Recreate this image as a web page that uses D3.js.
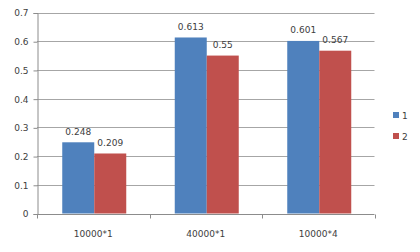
<!DOCTYPE html>
<html>
<head>
<meta charset="utf-8">
<script src="https://cdn.jsdelivr.net/npm/d3@7"></script>
<style>
  body { margin: 0; background: #fff; }
  text { font-family: "DejaVu Sans", sans-serif; font-size: 9px; fill: #404040; }
</style>
</head>
<body>
<div id="chart"></div>
<script>
// chart data
var categories = ["10000*1", "40000*1", "10000*4"];
var seriesNames = ["1", "2"];
var series1 = [0.248, 0.613, 0.601];
var series2 = [0.209, 0.55, 0.567];
var yTicks = [0, 0.1, 0.2, 0.3, 0.4, 0.5, 0.6, 0.7];

var colors = ["#4f81bd", "#c0504d"];

var width = 420, height = 252;
var margin = { top: 12.5, right: 45.5, bottom: 38.5, left: 37 };

var svg = d3.select("#chart").append("svg")
    .attr("width", width)
    .attr("height", height);

var x = d3.scaleBand()
    .domain(categories)
    .range([margin.left, width - margin.right]);

var x1 = d3.scaleBand()
    .domain(seriesNames)
    .range([0, 64]);

var y = d3.scaleLinear()
    .domain([0, 0.7])
    .range([height - margin.bottom, margin.top]);

// gridlines
svg.append("g")
  .selectAll("line")
  .data(yTicks.slice(1))
  .enter().append("line")
    .attr("x1", margin.left)
    .attr("x2", width - margin.right)
    .attr("y1", function(d) { return Math.round(y(d)) + 0.5; })
    .attr("y2", function(d) { return Math.round(y(d)) + 0.5; })
    .attr("stroke", "#a6a6a6");

// y axis
var yAxis = svg.append("g")
    .attr("transform", "translate(" + (margin.left + 0.5) + ",0.5)")
    .call(d3.axisLeft(y).tickValues(yTicks).tickSize(4).tickPadding(5)
      .tickFormat(function(d) { return d === 0 ? "0" : d3.format(".1f")(d); }));
yAxis.select(".domain").attr("stroke", "#8c8c8c");
yAxis.selectAll(".tick line").attr("stroke", "#8c8c8c");
yAxis.selectAll("text").style("fill", "#404040");

var rows = categories.map(function(c, i) {
  return { cat: c, values: [series1[i], series2[i]] };
});

var groups = svg.append("g")
  .selectAll("g")
  .data(rows)
  .enter().append("g")
    .attr("transform", function(d) {
      return "translate(" + (x(d.cat) + (x.bandwidth() - 64) / 2 + 1) + ",0)";
    });

groups.selectAll("rect")
  .data(function(d) { return d.values; })
  .enter().append("rect")
    .attr("x", function(d, i) { return x1(seriesNames[i]); })
    .attr("width", x1.bandwidth())
    .attr("y", function(d) { return y(d); })
    .attr("height", function(d) { return y(0) - y(d); })
    .attr("fill", function(d, i) { return colors[i]; });

groups.selectAll("text.val")
  .data(function(d) { return d.values; })
  .enter().append("text")
    .attr("class", "val")
    .attr("x", function(d, i) { return x1(seriesNames[i]) + x1.bandwidth() / 2; })
    .attr("y", function(d) { return y(d) - 7.5; })
    .attr("text-anchor", "middle")
    .text(function(d) { return d; });

// x axis
var xAxisY = Math.round(y(0)) + 0.5;
svg.append("line")
    .attr("x1", margin.left)
    .attr("x2", width - margin.right)
    .attr("y1", xAxisY)
    .attr("y2", xAxisY)
    .attr("stroke", "#8c8c8c");

svg.append("g")
  .selectAll("line")
  .data(d3.range(categories.length + 1))
  .enter().append("line")
    .attr("x1", function(i) { return Math.round(margin.left + i * x.step()) + 0.5; })
    .attr("x2", function(i) { return Math.round(margin.left + i * x.step()) + 0.5; })
    .attr("y1", xAxisY)
    .attr("y2", xAxisY + 4)
    .attr("stroke", "#8c8c8c");

svg.append("g")
  .selectAll("text")
  .data(categories)
  .enter().append("text")
    .attr("x", function(d) { return x(d) + x.bandwidth() / 2; })
    .attr("y", 236.5)
    .attr("text-anchor", "middle")
    .text(function(d) { return d; });

// legend
var legend = svg.append("g")
  .selectAll("g")
  .data(seriesNames)
  .enter().append("g")
    .attr("transform", function(d, i) { return "translate(393," + (112 + i * 21) + ")"; });

legend.append("rect")
    .attr("width", 6)
    .attr("height", 6)
    .attr("fill", function(d, i) { return colors[i]; });

legend.append("text")
    .attr("x", 9)
    .attr("y", 6.5)
    .text(function(d) { return d; });
</script>
</body>
</html>
